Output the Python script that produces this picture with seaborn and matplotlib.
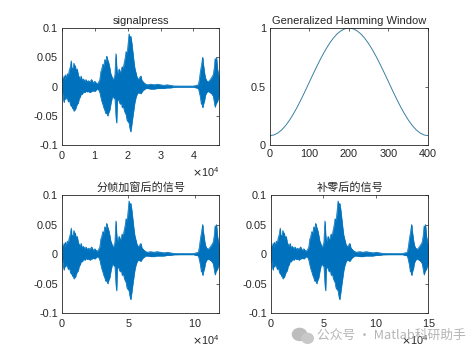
import numpy as np
import pandas as pd
import seaborn as sns
import matplotlib.pyplot as plt
from matplotlib.patches import Ellipse

# 원 신호 포락선 (표본 위치 x1000, 위/아래 진폭) - 그림에서 읽은 값
env_t = [0.0, 0.2, 0.4, 0.6, 0.8, 1.0, 1.3, 1.6, 1.9, 2.2, 2.5, 2.8, 3.0, 3.2, 3.4, 3.6,
         3.8, 4.0, 4.3, 4.6, 4.9, 5.2, 5.5, 5.8, 6.1, 6.5, 7.0, 7.3, 7.7, 8.0, 8.5, 9.0,
         9.5, 10.0, 10.5, 11.0, 11.5, 11.8, 12.1, 12.4, 12.7, 13.0, 13.3, 13.6, 13.9,
         14.2, 14.5, 14.8, 15.1, 15.4, 15.8, 16.1, 16.4, 16.6, 16.8, 17.1, 17.4, 17.7,
         18.0, 18.3, 18.6, 18.9, 19.2, 19.5, 19.8, 20.1, 20.4, 20.6, 20.9, 21.2, 21.5,
         21.8, 22.1, 22.4, 22.8, 23.2, 23.6, 24.0, 24.3, 24.7, 25.0, 25.5, 26.0, 27.0,
         28.0, 29.0, 30.0, 31.0, 32.0, 33.0, 34.0, 36.0, 38.0, 40.0, 41.5, 41.8, 42.1,
         42.4, 42.6, 42.8, 43.0, 43.3, 43.6, 44.0, 44.5, 45.0, 45.5, 46.0, 46.3, 46.6,
         46.8, 47.0, 47.3, 47.6, 47.9]
env_up = [0.0, 0.015, 0.008, 0.018, 0.012, 0.02, 0.014, 0.022, 0.018, 0.028, 0.033, 0.044,
          0.025, 0.032, 0.028, 0.04, 0.03, 0.036, 0.026, 0.03, 0.02, 0.016, 0.012, 0.018,
          0.01, 0.013, 0.008, 0.012, 0.007, 0.01, 0.008, 0.012, 0.006, 0.009, 0.005, 0.006,
          0.012, 0.025, 0.03, 0.038, 0.035, 0.046, 0.042, 0.052, 0.045, 0.04, 0.032, 0.022,
          0.018, 0.012, 0.014, 0.02, 0.056, 0.035, 0.02, 0.025, 0.03, 0.022, 0.028, 0.034,
          0.03, 0.04, 0.048, 0.06, 0.055, 0.072, 0.09, 0.08, 0.086, 0.075, 0.06, 0.045,
          0.032, 0.025, 0.016, 0.012, 0.015, 0.018, 0.01, 0.008, 0.006, 0.004, 0.003, 0.004,
          0.003, 0.004, 0.003, 0.002, 0.003, 0.002, 0.001, 0.0008, 0.0008, 0.0008, 0.003,
          0.012, 0.025, 0.035, 0.042, 0.05, 0.038, 0.025, 0.015, 0.01, 0.008, 0.011, 0.015,
          0.02, 0.03, 0.048, 0.04, 0.05, 0.03, 0.02, 0.012]
env_lo = [0.0, -0.012, -0.02, -0.027, -0.015, -0.022, -0.018, -0.02, -0.026, -0.022,
          -0.03, -0.034, -0.03, -0.038, -0.033, -0.042, -0.036, -0.04, -0.034, -0.03,
          -0.028, -0.02, -0.018, -0.012, -0.013, -0.009, -0.01, -0.007, -0.009, -0.008,
          -0.01, -0.008, -0.007, -0.008, -0.005, -0.004, -0.01, -0.018, -0.025, -0.03,
          -0.036, -0.04, -0.046, -0.044, -0.05, -0.044, -0.04, -0.03, -0.022, -0.015,
          -0.02, -0.02, -0.05, -0.062, -0.025, -0.02, -0.026, -0.03, -0.025, -0.036,
          -0.032, -0.04, -0.045, -0.048, -0.058, -0.06, -0.062, -0.07, -0.077, -0.065,
          -0.052, -0.04, -0.028, -0.02, -0.013, -0.01, -0.011, -0.012, -0.009, -0.006,
          -0.005, -0.003, -0.003, -0.004, -0.004, -0.003, -0.003, -0.003, -0.002, -0.002,
          -0.001, -0.0008, -0.0008, -0.0008, -0.003, -0.01, -0.018, -0.03, -0.028, -0.036,
          -0.03, -0.025, -0.015, -0.01, -0.008, -0.01, -0.012, -0.016, -0.025, -0.035,
          -0.03, -0.028, -0.025, -0.02, -0.012]

# 각 신호의 길이 (표본 수)
sig_titles = ['signalpress', '分帧加窗后的信号', '补零后的信号']
sig_len = [47900, 118500, 150000]
sig_xticks = [[0, 10000, 20000, 30000, 40000], [0, 50000, 100000], [0, 50000, 100000, 150000]]

# 해밍 창
win_n = list(range(0, 401, 10))
win_half = [0.08, 0.086, 0.103, 0.13, 0.168, 0.215, 0.27, 0.331, 0.398, 0.468, 0.54,
            0.612, 0.682, 0.749, 0.81, 0.865, 0.912, 0.95, 0.977, 0.994, 1.0]
win_v = win_half + win_half[-2::-1]

sig_yticks = [-0.1, -0.05, 0, 0.05, 0.1]
sig_yticklabels = ['-0.1', '-0.05', '0', '0.05', '0.1']

sns.set_style('white')
plt.rcParams['font.family'] = ['Liberation Sans', 'Noto Sans CJK SC', 'DejaVu Sans']
plt.rcParams['axes.unicode_minus'] = False

blue = '#0072BD'
txt = '#262626'

fig = plt.figure(figsize=(4.74, 3.55), dpi=100)
pos = {
    'tl': [0.1308, 0.5915, 0.332, 0.3296],
    'tr': [0.5696, 0.5915, 0.3333, 0.3296],
    'bl': [0.1308, 0.1183, 0.332, 0.3324],
    'br': [0.5717, 0.1183, 0.332, 0.3324],
}


def style_ax(ax):
    for s in ax.spines.values():
        s.set_color('#262626')
        s.set_linewidth(0.6)
    ax.tick_params(direction='in', length=2.5, width=0.5, labelsize=7.8,
                   colors=txt, pad=3, top=True, right=True,
                   labeltop=False, labelright=False)


def draw_signal(ax, k):
    scale = sig_len[k] / sig_len[0]
    df = pd.DataFrame({'x': np.array(env_t) * 1000 * scale,
                       'up': env_up, 'lo': env_lo})
    ax.fill_between(df['x'], df['lo'], df['up'], color=blue, lw=0.4)
    sns.lineplot(data=df, x='x', y='up', ax=ax, color=blue, lw=0.5)
    sns.lineplot(data=df, x='x', y='lo', ax=ax, color=blue, lw=0.5)
    ax.set_xlim(0, sig_len[k])
    ax.set_ylim(-0.1, 0.1)
    ax.set_xticks(sig_xticks[k])
    ax.set_yticks(sig_yticks)
    ax.set_yticklabels(sig_yticklabels)
    ax.ticklabel_format(axis='x', style='sci', scilimits=(4, 4), useMathText=True)
    ax.xaxis.get_offset_text().set_fontsize(7.8)
    ax.xaxis.get_offset_text().set_color(txt)
    ax.set_xlabel('')
    ax.set_ylabel('')
    ax.set_title(sig_titles[k], fontsize=8, color=txt, pad=3)
    style_ax(ax)


ax1 = fig.add_axes(pos['tl'])
draw_signal(ax1, 0)

ax2 = fig.add_axes(pos['tr'])
wdf = pd.DataFrame({'n': win_n, 'w': win_v})
sns.lineplot(data=wdf, x='n', y='w', ax=ax2, color='#3a80a0', lw=0.7)
ax2.set_xlim(0, 400)
ax2.set_ylim(0, 1)
ax2.set_xticks([0, 100, 200, 300, 400])
ax2.set_yticks([0, 0.5, 1])
ax2.set_yticklabels(['0', '0.5', '1'])
ax2.set_xlabel('')
ax2.set_ylabel('')
ax2.set_title('Generalized Hamming Window', fontsize=8, color=txt, pad=3)
style_ax(ax2)

ax3 = fig.add_axes(pos['bl'])
draw_signal(ax3, 1)

ax4 = fig.add_axes(pos['br'])
draw_signal(ax4, 2)

# 워터마크
fig.text(0.668, 0.054, '公众号 · Matlab科研助手', fontsize=9.2, color='#b5b5b5',
         ha='left', va='center', family=['Noto Sans CJK SC', 'DejaVu Sans'])
fig.patches.append(Ellipse((0.632, 0.058), 0.03, 0.034, transform=fig.transFigure,
                           color='#bdbdbd', zorder=5))
fig.patches.append(Ellipse((0.649, 0.047), 0.024, 0.028, transform=fig.transFigure,
                           color='#c8c8c8', zorder=6))

fig.savefig('out.png', dpi=100)
